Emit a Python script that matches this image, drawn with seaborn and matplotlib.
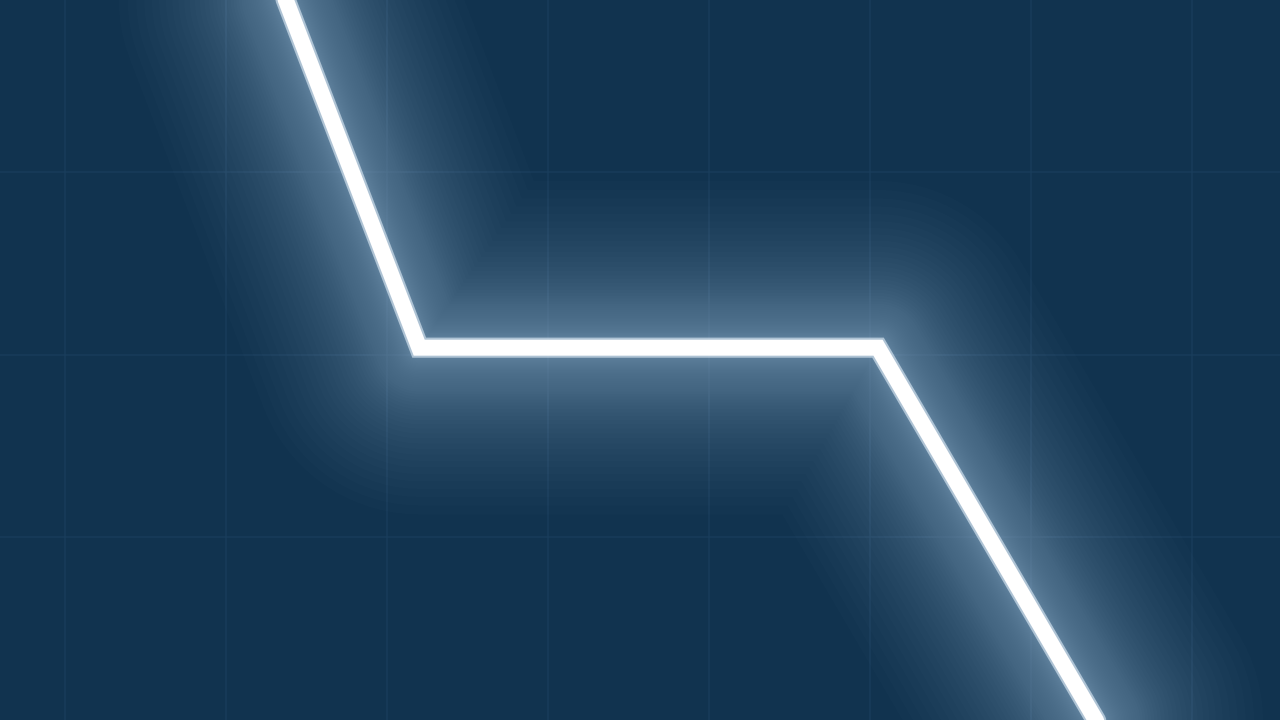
import numpy as np
import pandas as pd
import matplotlib
matplotlib.use("Agg")
import matplotlib.pyplot as plt
import seaborn as sns

# path of the glowing line (grid units, one unit per grid cell)
line_x = [1.13, 2.20, 5.05, 6.80]
line_y = [2.50, 0.04, 0.04, -2.60]

# grid positions
grid_x = [0, 1, 2, 3, 4, 5, 6, 7]
grid_y = [-1, 0, 1]

bg_color = "#11334f"
glow_color = "#a9cbe6"

sns.set_theme(style="dark", rc={"axes.facecolor": bg_color, "figure.facecolor": bg_color})

df = pd.DataFrame({"x": line_x, "y": line_y})

fig = plt.figure(figsize=(12.8, 7.2), dpi=100)
ax = fig.add_axes([0, 0, 1, 1])
ax.set_facecolor(bg_color)

for gx in grid_x:
    ax.axvline(gx, color="#1b3f5e", lw=1.5, alpha=0.55, zorder=0)
for gy in grid_y:
    ax.axhline(gy, color="#1b3f5e", lw=1.5, alpha=0.55, zorder=0)

# soft glow: many stacked translucent strokes, geometric widths for a smooth falloff
widths = np.geomspace(240, 12, 55)
for w in widths:
    sns.lineplot(data=df, x="x", y="y", sort=False, estimator=None, ax=ax,
                 color=glow_color, lw=w, alpha=0.02, solid_capstyle="round",
                 solid_joinstyle="round", legend=False)

sns.lineplot(data=df, x="x", y="y", sort=False, estimator=None, ax=ax,
             color="#e4f0fa", lw=14.5, alpha=0.6, solid_joinstyle="miter", legend=False)
sns.lineplot(data=df, x="x", y="y", sort=False, estimator=None, ax=ax,
             color="white", lw=11.5, solid_joinstyle="miter", legend=False)

ax.set_xlim(-0.404, 7.547)
ax.set_ylim(-2.0, 1.945)
ax.set_xlabel("")
ax.set_ylabel("")
ax.set_xticks([])
ax.set_yticks([])
for s in ax.spines.values():
    s.set_visible(False)

fig.savefig("out.png", dpi=100, facecolor=bg_color)
